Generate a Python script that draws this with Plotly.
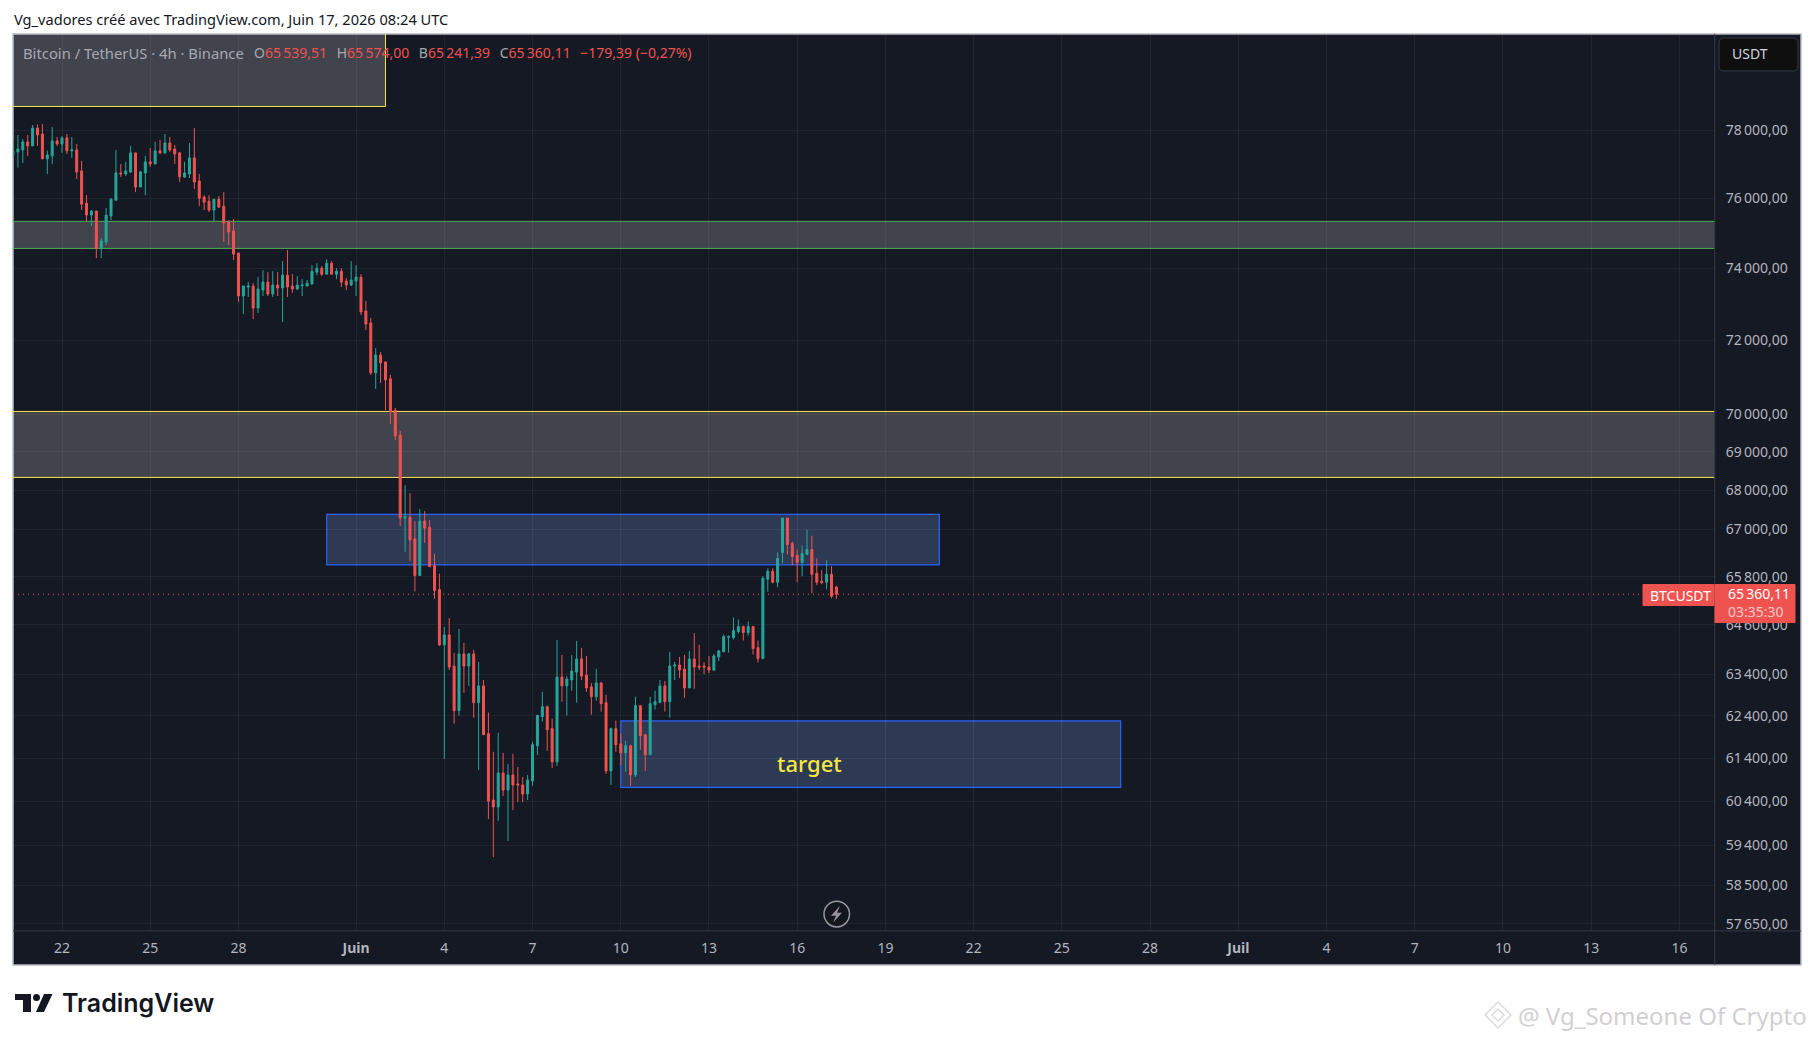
import plotly.graph_objects as go
import pandas as pd
import math

# page offset of the plotly div (browser body margin)
OX, OY = 8, 8
W, H = 1798, 1024
Y_STRETCH = 1.003

# 4h candles, BTCUSDT
open_ = [
    77236,77353,77412,77647,77530,78059,77882,77147,77236,77677,
    77588,77765,77383,77412,76795,75857,75514,75629,74562,74744,
    75486,75943,76736,76706,76765,77324,76324,76736,77059,77000,
    77383,77324,77618,77441,77324,76618,76706,77177,76500,76030,
    75914,75657,75971,75771,75314,75058,74429,73222,73472,73500,
    72889,73389,73611,73278,73528,73444,73806,73500,73417,73509,
    73500,73556,73889,74000,73833,74143,73833,73917,73639,73528,
    73639,73750,72806,72472,71109,71595,71406,70947,70108,69447,
    67282,67308,66750,65825,67205,67051,66075,65475,64110,64355,
    63596,62526,63890,63596,63890,62715,63117,61979,60431,60271,
    61059,60663,61012,60803,60780,60570,60873,61694,62384,62620,
    62098,61315,63329,63117,63258,63449,63768,63376,63094,62857,
    63187,62715,61105,62098,61742,61529,61694,61012,62644,61955,
    61481,62668,62715,63117,62739,63596,63620,63522,63069,63768,
    63596,63596,63571,63498,63817,63947,64298,64290,64437,64559,
    64412,64559,64045,63776,65733,65933,65658,66408,67283,66633,
    66333,66158,66358,66483,65883,65683,65658,65858,65539.51,
]
high = [
    77657,77853,77726,77853,78147,78167,78176,77392,78088,77794,
    77824,77882,77794,77588,77088,76088,75657,75629,74858,75714,
    76000,77412,77000,77059,77530,77324,76795,77236,77471,77647,
    77706,77882,77794,77559,77353,77059,77618,78059,76706,76088,
    76088,75971,76059,76176,75371,75400,74429,73500,73611,73583,
    73750,73944,73889,73917,73889,74200,74515,73833,73778,73694,
    73667,74086,74143,74057,74257,74200,74000,74000,73722,74200,
    74086,73833,73083,72611,71784,71676,71406,71055,70162,69553,
    68132,67923,67205,67513,67462,67231,66375,65875,64551,64771,
    63915,64502,64159,63915,63988,63694,63258,62479,61553,62002,
    61529,61269,61505,61198,60966,61012,61789,62431,62975,62644,
    62336,64233,63866,63353,63866,64208,64037,63841,63187,63522,
    63211,62904,62122,62289,61979,61813,61718,62857,62644,61955,
    62857,62999,63258,63235,63939,63694,63817,63866,63964,64404,
    64110,63694,63841,63890,63988,64363,64339,64783,64733,64584,
    64683,64559,64216,65808,66008,66008,66408,67283,67283,66683,
    66483,66583,66983,66833,66258,65958,66208,66058,65574,
]
low = [
    77200,76893,77020,77236,77530,77530,77147,76706,77000,77530,
    77324,77294,77177,76559,75657,75343,75200,74286,74286,74658,
    75371,75943,76618,76648,76736,76176,76324,76088,76912,77000,
    77294,77294,77353,77000,76471,76589,76589,76265,75771,75657,
    75600,75343,75714,74744,74658,74229,73056,72722,73194,72583,
    72750,73222,73222,73194,73222,72500,73194,73306,73389,73222,
    73500,73556,73806,73778,73833,73833,73694,73472,73389,73500,
    73222,72694,72278,71055,70677,70839,70108,69737,69316,67077,
    66425,66200,65431,65825,66650,66050,65250,64090,61385,63498,
    62217,62408,62951,63117,62360,61129,61955,59998,59134,59952,
    60524,59498,60203,60385,60385,60431,60757,61481,62265,61576,
    61175,61222,62739,62408,62999,62715,63258,62975,62431,62762,
    62502,61036,60780,61553,61245,61082,60757,60966,61600,61105,
    61481,62550,62715,62502,62360,63258,63306,62833,63069,63046,
    63498,63400,63424,63473,63719,63923,63923,64241,64388,64216,
    64339,63874,63678,63776,65425,65633,65533,66133,66358,66083,
    65658,65808,66358,65383,65583,65608,65483,65258,65241.39,
]
close = [
    77383,77441,77647,77530,78059,77853,77147,77265,77677,77588,
    77765,77383,77412,76765,75829,75514,75629,74562,74772,75514,
    75971,76736,76706,76795,77324,76324,76765,77059,77000,77383,
    77324,77618,77412,77294,76618,76736,77177,76471,76000,75886,
    75657,75971,75743,75286,75029,74401,73222,73500,73500,72889,
    73417,73611,73278,73528,73444,73806,73472,73417,73528,73528,
    73583,73917,74000,73833,74143,73833,73917,73611,73528,73667,
    73750,72778,72444,71109,71595,71379,70920,70054,69421,67282,
    67316,66725,65825,67205,67026,66050,65450,64110,64355,63571,
    62526,63890,63596,63890,62715,63117,61955,60408,60271,61059,
    60663,61012,60780,60780,60570,60896,61718,62408,62620,62074,
    61315,63329,63117,63282,63473,63768,63353,63069,62857,63187,
    62691,61105,62098,61718,61529,61694,61012,62644,61932,61481,
    62691,62739,63117,62739,63596,63620,63498,63069,63768,63571,
    63571,63571,63498,63841,63964,64314,64314,64461,64559,64412,
    64559,64021,63776,65758,65933,65658,66258,67283,66608,66308,
    66158,66383,66483,65858,65658,65658,65858,65308,65360.11,
]
times = pd.date_range("2026-05-20 08:00", periods=len(close), freq="4h")

price_ticks = [78000,76000,74000,72000,70000,69000,68000,67000,65800,64600,63400,62400,61400,60400,59400,58500,57650]
price_labels = ["78\u2009000,00","76\u2009000,00","74\u2009000,00","72\u2009000,00","70\u2009000,00","69\u2009000,00",
                "68\u2009000,00","67\u2009000,00","65\u2009800,00","64\u2009600,00","63\u2009400,00","62\u2009400,00",
                "61\u2009400,00","60\u2009400,00","59\u2009400,00","58\u2009500,00","57\u2009650,00"]
date_ticks = ["2026-05-22","2026-05-25","2026-05-28","2026-06-01","2026-06-04","2026-06-07","2026-06-10","2026-06-13",
              "2026-06-16","2026-06-19","2026-06-22","2026-06-25","2026-06-28","2026-07-01","2026-07-04","2026-07-07",
              "2026-07-10","2026-07-13","2026-07-16"]
date_labels = ["22","25","28","<b>Juin</b>","4","7","10","13","16","19","22","25","28","<b>Juil</b>","4","7","10","13","16"]

last_price = 65360.11

# zones: x0, x1, y0, y1
green_zone = ["2026-05-01", "2026-08-01", 74561, 75334]
yellow_zone = ["2026-05-01", "2026-08-01", 68333, 70072]
top_zone = ["2026-05-01", "2026-06-02", 78702, 90000]
blue_zone = ["2026-05-31", "2026-06-20 20:00", 66092, 67376]
target_zone = ["2026-06-10", "2026-06-27", 60726, 62281]

BG = "#151924"
RED = "#ef5350"
TEAL = "#26a69a"
YELLOW = "#f7e64d"
GREEN = "#4caf50"
BLUE = "#2962ff"
GREY_FILL = "rgba(255,255,255,0.19)"
BLUE_FILL = "rgba(107,137,194,0.3)"
LABEL = "#b2b5be"
GRID = "rgba(255,255,255,0.05)"


def fx(x):
    return (x - OX) / W


def fy(y):
    return 1 - (34 + (y - 34) * Y_STRETCH - OY) / H


def poly(points):
    return "M " + " L ".join(f"{fx(a):.5f},{fy(b):.5f}" for a, b in points) + " Z"


def text(x, y, s, size, color, font="Noto Sans", anchor="left", weight=None):
    f = dict(size=size, color=color, family=font)
    if weight:
        f["weight"] = weight
    return dict(x=fx(x), y=fy(y), xref="paper", yref="paper", text=s, showarrow=False,
                xanchor=anchor, yanchor="middle", font=f, align="left")


def zone(z, line_col, fill, width=1):
    return dict(type="rect", xref="x", yref="y", x0=z[0], x1=z[1], y0=z[2], y1=z[3],
                line=dict(color=line_col, width=width), fillcolor=fill, layer="below")


def box(x0, y0, x1, y1, fill, line=None, width=1, layer="above"):
    return dict(type="rect", xref="paper", yref="paper", x0=fx(x0), x1=fx(x1), y0=fy(y1), y1=fy(y0),
                fillcolor=fill, line=dict(color=line or fill, width=width), layer=layer)


def rounded(x0, y0, x1, y1, r):
    return (f"M {fx(x0+r)},{fy(y0)} L {fx(x1-r)},{fy(y0)} Q {fx(x1)},{fy(y0)} {fx(x1)},{fy(y0+r)} "
            f"L {fx(x1)},{fy(y1-r)} Q {fx(x1)},{fy(y1)} {fx(x1-r)},{fy(y1)} "
            f"L {fx(x0+r)},{fy(y1)} Q {fx(x0)},{fy(y1)} {fx(x0)},{fy(y1-r)} "
            f"L {fx(x0)},{fy(y0+r)} Q {fx(x0)},{fy(y0)} {fx(x0+r)},{fy(y0)} Z")


fig = go.Figure(go.Candlestick(
    x=times, open=open_, high=high, low=low, close=close,
    increasing=dict(line=dict(color=TEAL, width=1), fillcolor=TEAL),
    decreasing=dict(line=dict(color=RED, width=1), fillcolor=RED),
    whiskerwidth=0, showlegend=False, hoverinfo="skip",
))

shapes = [
    # chart panel
    box(13, 34, 1801, 964, BG, "#b8bac2", 1.5, "below"),
    zone(green_zone, GREEN, GREY_FILL),
    zone(yellow_zone, YELLOW, GREY_FILL),
    zone(top_zone, YELLOW, GREY_FILL),
    zone(blue_zone, BLUE, BLUE_FILL, 1.2),
    zone(target_zone, BLUE, BLUE_FILL, 1.2),
    dict(type="line", xref="paper", yref="y", x0=fx(13), x1=fx(1714), y0=last_price, y1=last_price,
         line=dict(color=RED, width=1, dash="1px,4px"), layer="below"),
    # axis separators
    dict(type="line", xref="paper", yref="paper", x0=fx(1714.7), x1=fx(1714.7), y0=fy(34), y1=fy(964),
         line=dict(color="#363a45", width=1), layer="above"),
    dict(type="line", xref="paper", yref="paper", x0=fx(13), x1=fx(1801), y0=fy(930), y1=fy(930),
         line=dict(color="#363a45", width=1), layer="above"),
    # last price labels
    box(1643, 584, 1714, 605, RED),
    box(1715, 584, 1795, 622, RED),
    # USDT button
    dict(type="path", xref="paper", yref="paper", layer="above", fillcolor="#0f0f10",
         line=dict(color="#363a45", width=1), path=rounded(1719, 38, 1798, 71, 5)),
    # lightning button
    dict(type="circle", xref="paper", yref="paper", x0=fx(824), x1=fx(849.5), y0=fy(926), y1=fy(900.5),
         fillcolor="#14161d", line=dict(color="#9598a1", width=1.5), layer="above"),
    dict(type="path", xref="paper", yref="paper", layer="above", fillcolor="#9a8f9c", line=dict(width=0),
         path=poly([(840, 905), (831, 915), (836, 915), (833, 922), (842, 912), (837, 912)])),
    # TradingView logo
    dict(type="path", xref="paper", yref="paper", layer="above", fillcolor="#131722", line=dict(width=0),
         path=poly([(15, 993), (31, 993), (31, 1011), (23, 1011), (23, 999), (15, 999)])),
    dict(type="circle", xref="paper", yref="paper", x0=fx(33), x1=fx(40), y0=fy(1000), y1=fy(993),
         fillcolor="#131722", line=dict(width=0), layer="above"),
    dict(type="path", xref="paper", yref="paper", layer="above", fillcolor="#131722", line=dict(width=0),
         path=poly([(44, 993), (52.5, 993), (44, 1011), (36, 1011)])),
    # watermark diamond
    dict(type="path", xref="paper", yref="paper", layer="above", fillcolor="rgba(0,0,0,0)",
         line=dict(color="#dedbde", width=1.5),
         path=poly([(1498, 1001), (1511, 1014), (1498, 1027), (1485, 1014)])),
    dict(type="path", xref="paper", yref="paper", layer="above", fillcolor="rgba(0,0,0,0)",
         line=dict(color="#dedbde", width=1.5),
         path=poly([(1498, 1008), (1504, 1014), (1498, 1020), (1492, 1014)])),
]

v = "<span style='color:#f0524f'>%s</span>"
gap = "&nbsp;&nbsp;\u2009"
ohlc = ("O" + v % "65\u2009539,51" + gap + "H" + v % "65\u2009574,00"
        + gap + "B" + v % "65\u2009241,39" + gap + "C" + v % "65\u2009360,11"
        + gap + v % "\u2212179,39 (\u22120,27%)")

annotations = [
    text(12, 19, "Vg_vadores créé avec TradingView.com, Juin 17, 2026 08:24 UTC", 14.6, "#131722"),
    text(21, 53, "Bitcoin / TetherUS · 4h · Binance", 14.8, "#a6a9b2"),
    text(252, 53, ohlc, 14, "#a6a9b2"),
    text(1730, 54, "USDT", 14, "#d1d4dc"),
    text(1648, 594.5, "BTCUSDT", 14, "#ffffff"),
    text(1726, 593, "65\u2009360,11", 14, "#ffffff"),
    text(1726, 611, "03:35:30", 14, "#f6c9c8"),
    text(60, 1002, "TradingView", 25, "#131722", font="Inter", weight=600),
    text(1516, 1015, "@ Vg_Someone Of Crypto", 24, "#d2cfd2"),
    dict(x="2026-06-16 10:00", y=math.log10(61290), xref="x", yref="y", text="target", showarrow=False,
         font=dict(size=22, color="#f5e642", family="Noto Sans", weight=500)),
]

fig.update_layout(
    width=W, height=H,
    margin=dict(l=0, r=0, t=0, b=0),
    paper_bgcolor="#ffffff",
    plot_bgcolor=BG,
    boxgap=0.42,
    showlegend=False,
    shapes=shapes,
    annotations=annotations,
    xaxis=dict(
        domain=[fx(13), fx(1714.7)],
        type="date",
        range=["2026-05-20 08:00", "2026-07-17 04:48"],
        rangeslider=dict(visible=False),
        tickmode="array", tickvals=date_ticks, ticktext=date_labels,
        showgrid=True, gridcolor=GRID, gridwidth=1,
        zeroline=False, showline=False, ticks="",
        ticklabelstandoff=7,
        tickfont=dict(size=14, color=LABEL, family="Noto Sans"),
    ),
    yaxis=dict(
        domain=[fy(930), fy(34)],
        type="log",
        side="right",
        range=[math.log10(57494), math.log10(80907)],
        tickmode="array", tickvals=price_ticks, ticktext=price_labels,
        showgrid=True, gridcolor=GRID, gridwidth=1,
        zeroline=False, showline=False, ticks="",
        ticklabelstandoff=10,
        tickfont=dict(size=14, color=LABEL, family="Noto Sans"),
    ),
)

fig.write_html("out.html")
